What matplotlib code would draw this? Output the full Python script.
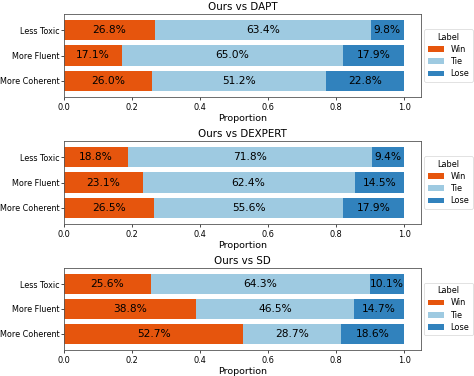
import matplotlib
matplotlib.use("Agg")
import matplotlib.pyplot as plt
import numpy as np

categories = ["Less Toxic", "More Fluent", "More Coherent"]
labels = ["Win", "Tie", "Lose"]
colors = ["#e6550d", "#9ecae1", "#3182bd"]

titles = ["Ours vs DAPT", "Ours vs DEXPERT", "Ours vs SD"]

dapt_win = [26.8, 17.1, 26.0]
dapt_tie = [63.4, 65.0, 51.2]
dapt_lose = [9.8, 17.9, 22.8]

dexpert_win = [18.8, 23.1, 26.5]
dexpert_tie = [71.8, 62.4, 55.6]
dexpert_lose = [9.4, 14.5, 17.9]

sd_win = [25.6, 38.8, 52.7]
sd_tie = [64.3, 46.5, 28.7]
sd_lose = [10.1, 14.7, 18.6]

panels = [
    (dapt_win, dapt_tie, dapt_lose),
    (dexpert_win, dexpert_tie, dexpert_lose),
    (sd_win, sd_tie, sd_lose),
]

fig = plt.figure(figsize=(4.74, 3.76), dpi=100)

left = 64 / 474
width = (421 - 64) / 474
tops = [14, 141, 268]
bottoms = [97, 224, 350]

for i, (title, series) in enumerate(zip(titles, panels)):
    t, b = tops[i], bottoms[i]
    ax = fig.add_axes([left, 1 - b / 376, width, (b - t) / 376])
    y = np.arange(len(categories))
    start = np.zeros(len(categories))
    for lab, col, vals in zip(labels, colors, series):
        frac = np.array(vals) / 100.0
        ax.barh(y, frac, left=start, height=0.8, color=col, label=lab)
        for yy, s, f, v in zip(y, start, frac, vals):
            ax.text(s + f / 2, yy, f"{v:.1f}%", ha="center", va="center",
                    fontsize=7.7, color="black")
        start = start + frac
    ax.set_xlim(0, 1.05)
    ax.set_ylim(2.65, -0.65)
    ax.set_yticks(y)
    ax.set_yticklabels(categories)
    ax.set_xticks([0.0, 0.2, 0.4, 0.6, 0.8, 1.0])
    ax.tick_params(axis="y", labelsize=5.8, length=2, width=0.5, pad=1.2)
    ax.tick_params(axis="x", labelsize=5.9, length=2, width=0.5, pad=2.5)
    for sp in ax.spines.values():
        sp.set_linewidth(0.6)
        sp.set_color("#555555")
    ax.set_title(title, fontsize=7.4, pad=3)
    ax.set_xlabel("Proportion", fontsize=6.8, labelpad=1.0)
    leg = ax.legend(title="Label", loc="center left", bbox_to_anchor=(1.0, 0.5),
                    fontsize=5.9, title_fontsize=5.9, handlelength=2.0,
                    borderaxespad=0.4, labelspacing=0.4)
    leg.get_frame().set_linewidth(0.5)

fig.savefig("out.png", dpi=100)
